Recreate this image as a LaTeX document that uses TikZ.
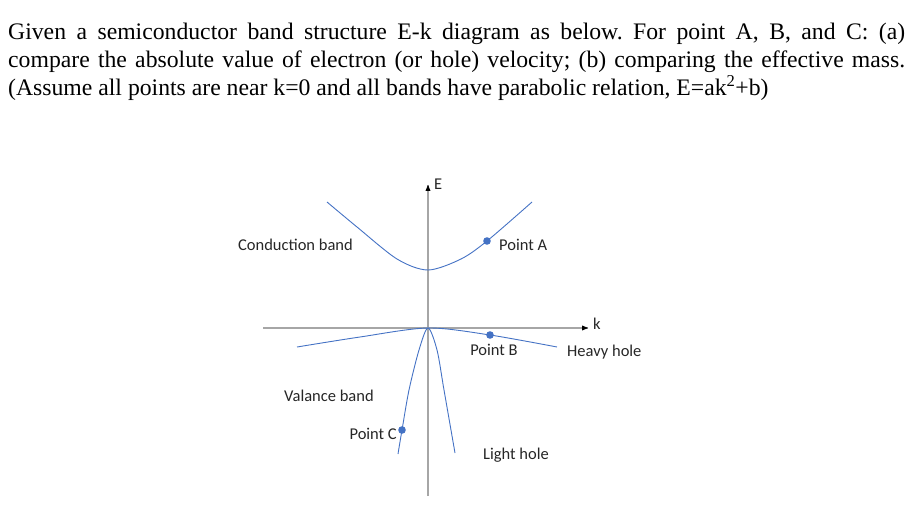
\documentclass[tikz,border=0pt]{standalone}
\usepackage{fontspec}
\setmainfont{Liberation Serif}
\newfontfamily\labelfont{Carlito}
\usetikzlibrary{positioning,arrows}
\usetikzlibrary{decorations.markings}
\definecolor{bandblue}{HTML}{4472C4}
\definecolor{axisgray}{HTML}{A6A6A6}
\definecolor{labelgray}{HTML}{262626}
\tikzset{
  axis/.style={draw=axisgray, line width=1.1pt, postaction={decorate},
    decoration={markings,mark=at position 1 with {\arrow[black,scale=0.65]{triangle 45}}}},
  band/.style={draw=bandblue, line width=0.9pt},
  lbl/.style={font=\labelfont\fontsize{16.5}{19}\selectfont, text=labelgray, inner sep=0pt},
  dot/.style={fill=bandblue}
}

\begin{document}
\frenchspacing
\begin{tikzpicture}[x=1pt, y=-1pt]
    \useasboundingbox (0,0) rectangle (912,521);

    \node[anchor=north west, text width=897pt, inner sep=0pt, align=justify,
      font=\fontsize{23.7}{28}\selectfont] (question) at (8,23)
      {Given a semiconductor band structure E-k diagram as below. For point A, B, and C: (a)\linebreak
       compare the absolute value of electron (or hole) velocity; (b) comparing the effective mass.\linebreak
       (Assume all points are near k=0 and all bands have parabolic relation, E=ak\textsuperscript{2}+b)};

    % axes
    \coordinate (o) at (428,328);
    \coordinate[label={[lbl,label distance=6pt,yshift=1pt]right:E}] (eTop) at (428,185);
    \coordinate (eBot) at (428,496);
    \coordinate[label={[lbl,label distance=5pt,yshift=4pt]right:k}] (kRight) at (588,328);
    \coordinate (kLeft) at (263,328);

    \draw[axis] (eBot) -- (eTop);
    \draw[axis] (kLeft) -- (kRight);

    % bands
    \coordinate[label={[lbl,label distance=12pt,yshift=-4pt]right:Point A}] (ptA) at (487,241);
    \coordinate[label={[lbl,label distance=9pt,xshift=4pt]below:Point B}] (ptB) at (490,335);
    \coordinate[label={[lbl,label distance=5pt,yshift=-4pt]left:Point C}] (ptC) at (402,430);

    \draw[band] plot[smooth] coordinates {(327,202) (357,227) (397,259) (428,270) (461,259) (ptA) (532,202)};
    \draw[band] plot[smooth] coordinates {(297,347) (360,337) (o) (ptB) (557,347)};
    \draw[band] plot[smooth] coordinates {(398,454) (ptC) (409,390) (419,350) (o) (437,350) (444,390) (455,453)};

    \fill[dot] (ptA) circle (3.8pt);
    \fill[dot] (ptB) circle (3.8pt);
    \fill[dot] (ptC) circle (3.8pt);

    \node[lbl, anchor=east] (cbLabel) at (353,245) {Conduction band};
    \node[lbl, anchor=west] (vbLabel) at (284,396) {Valance band};
    \node[lbl, anchor=west] (hhLabel) at (567,352) {Heavy hole};
    \node[lbl, anchor=west] (lhLabel) at (483,455) {Light hole};
  \end{tikzpicture}
\end{document}
